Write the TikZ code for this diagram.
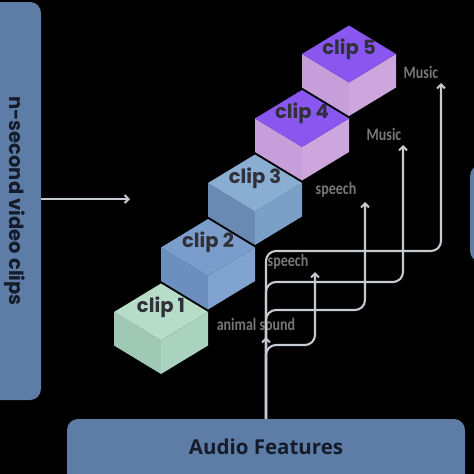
\documentclass[tikz,border=0pt]{standalone}
\usepackage{fontspec}
\usetikzlibrary{arrows.meta}
\newfontfamily\popf{Poppins}
\newfontfamily\carlf{Carlito}
\newfontfamily\opsf{Open Sans}
\definecolor{bg}{HTML}{000000}
\definecolor{boxblue}{HTML}{5E7DA6}
\definecolor{boxtext}{HTML}{141B2A}
\definecolor{arrowgray}{HTML}{C6CBD1}
\definecolor{lblgray}{HTML}{777777}
\definecolor{cliptext}{HTML}{303038}
\definecolor{gTop}{HTML}{B7DDC9}
\definecolor{gLeft}{HTML}{9FC9B4}
\definecolor{gRight}{HTML}{A9D3BE}
\definecolor{bTop}{HTML}{7B9DCB}
\definecolor{bLeft}{HTML}{6D8FBF}
\definecolor{bRight}{HTML}{80A3D0}
\definecolor{cTop}{HTML}{8AADD2}
\definecolor{cLeft}{HTML}{6A89B3}
\definecolor{cRight}{HTML}{7C9FC8}
\definecolor{pTop}{HTML}{8A56F0}
\definecolor{pLeft}{HTML}{C69FDA}
\definecolor{pRight}{HTML}{CDA6DE}
\tikzset{
  panel/.style={fill=boxblue, rounded corners=11pt, draw=none, inner sep=0pt},
  arr/.style={draw=arrowgray, line width=2.1pt, -{Straight Barb[length=4pt,width=8pt,line width=2pt]}},
  feat/.style={text=lblgray, font=\carlf\bfseries\fontsize{14}{14}\selectfont, inner sep=0pt},
  cliplabel/.style={text=cliptext, font=\popf\bfseries\fontsize{19.5}{19.5}\selectfont, inner sep=0pt}
}
% #1 cx, #2 cy, #3 top, #4 left, #5 right, #6 name, #7 text
\newcommand\clipcube[7]{%
  \fill[#4] ({#1-47},{#2}) -- ({#1},{#2+28.5}) -- ({#1},{#2+62}) -- ({#1-47},{#2+33.5}) -- cycle;
  \fill[#5] ({#1},{#2+28.5}) -- ({#1+47},{#2}) -- ({#1+47},{#2+33.5}) -- ({#1},{#2+62}) -- cycle;
  \fill[#3] ({#1-47},{#2}) -- ({#1},{#2-28.5}) -- ({#1+47},{#2}) -- ({#1},{#2+28.5}) -- cycle;
  \node[cliplabel] (#6) at ({#1},{#2-5}) {#7};
}
\begin{document}
\begin{tikzpicture}[x=1pt,y=-1pt]
\useasboundingbox (0,0) rectangle (474,474);
\clip (0,0) rectangle (474,474);
\fill[bg] (0,0) rectangle (474,474);

% left panel
\node[panel, minimum width=52pt, minimum height=398pt] (vid) at (15,201) {};
\node[rotate=-90, text=boxtext, font=\popf\bfseries\fontsize{19.5}{19.5}\selectfont, inner sep=0pt] (vidtxt) at (vid.center) {n-second video clips};
\coordinate (clipsin) at (130,199);
\draw[arr] (vid.east |- clipsin) -- (clipsin);

% bottom panel
\node[panel, minimum width=398pt, minimum height=81pt] (af) at (266,459.5) {};
\node[text=boxtext, font=\opsf\bfseries\fontsize{20.5}{20.5}\selectfont, inner sep=0pt] (aftxt) at (266,447) {Audio Features};

% right partial panel
\node[panel, minimum width=40pt, minimum height=97pt] (rp) at (490,213.5) {};

% cubes (back to front)
\clipcube{349}{54}{pTop}{pLeft}{pRight}{c5}{clip 5}
\clipcube{302}{118.5}{pTop}{pLeft}{pRight}{c4}{clip 4}
\clipcube{255}{183}{cTop}{cLeft}{cRight}{c3}{clip 3}
\clipcube{208}{247.5}{bTop}{bLeft}{bRight}{c2}{clip 2}
\clipcube{161}{312}{gTop}{gLeft}{gRight}{c1}{clip 1}

% feature labels
\node[feat] (lm2) at (421,72) {\scalebox{1}[1.25]{Music}};
\node[feat] (lm1) at (384,134) {\scalebox{1}[1.25]{Music}};
\node[feat] (ls2) at (336,190) {\scalebox{1}[1.25]{speech}};
\node[feat] (ls1) at (288,262) {\scalebox{1}[1.25]{speech}};
\node[feat] (lan) at (256,324) {\scalebox{1}[1.25]{animal sound}};

% arrows from audio features
\coordinate (tan) at (266,337);
\coordinate (k1) at (315,345);  \coordinate (ts1) at (315,272);
\coordinate (k2) at (365,310);  \coordinate (ts2) at (365,202);
\coordinate (k3) at (403,282);  \coordinate (tm1) at (403,145);
\coordinate (k4) at (441,251);  \coordinate (tm2) at (441,83);
\draw[arr] (af.north) -- (tan);
\draw[arr, rounded corners=10pt] (af.north) |- (k1) -- (ts1);
\draw[arr, rounded corners=10pt] (af.north) |- (k2) -- (ts2);
\draw[arr, rounded corners=10pt] (af.north) |- (k3) -- (tm1);
\draw[arr, rounded corners=10pt] (af.north) |- (k4) -- (tm2);
\end{tikzpicture}
\end{document}
